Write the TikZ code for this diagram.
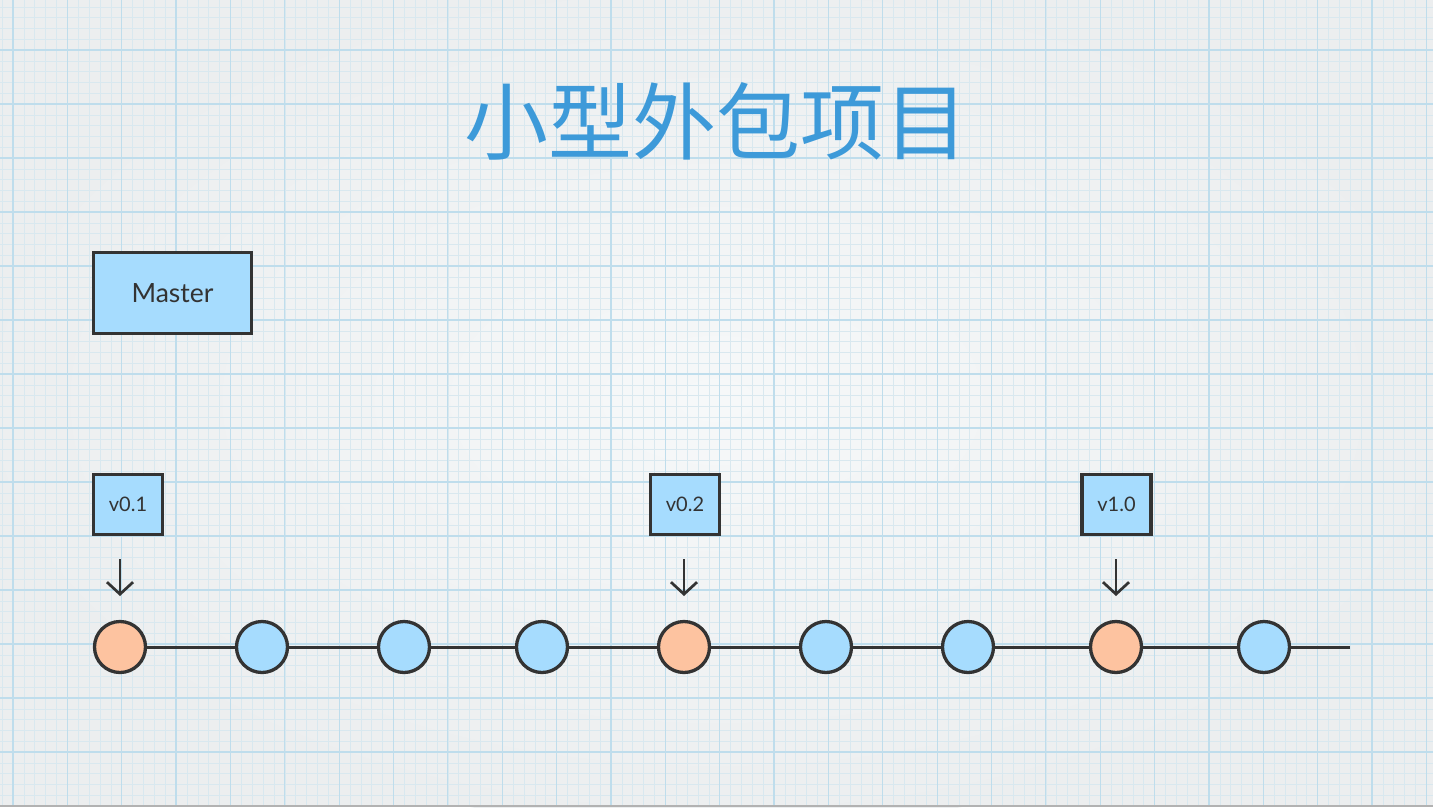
\documentclass[tikz,border=0pt]{standalone}
\usepackage{fontspec}
\setmainfont{Lato}
\newfontfamily\cjk{Noto Sans CJK SC}
\usetikzlibrary{arrows.meta}
\definecolor{bgc}{HTML}{ECEEEF}
\definecolor{bgcenter}{HTML}{F6F8F9}
\definecolor{minorc}{HTML}{D9E8EF}
\definecolor{majorc}{HTML}{BFDDEC}
\definecolor{ink}{HTML}{333333}
\definecolor{bluefill}{HTML}{A6DCFE}
\definecolor{orangefill}{HTML}{FDC3A0}
\definecolor{titlec}{HTML}{3D9AD9}
\tikzset{
  commitb/.style={circle, draw=ink, line width=3.3pt, fill=bluefill, minimum size=51pt, inner sep=0pt},
  commito/.style={commitb, fill=orangefill},
  tagbox/.style={rectangle, draw=ink, line width=3.5pt, fill=bluefill, minimum width=69pt, minimum height=60pt, inner sep=0pt, text=ink, font=\fontsize{20}{24}\selectfont},
  branchbox/.style={rectangle, draw=ink, line width=3.5pt, fill=bluefill, minimum width=158pt, minimum height=81pt, inner sep=0pt, text=ink, font=\fontsize{26.5}{30}\selectfont},
  link/.style={draw=ink, line width=3pt},
  pointer/.style={draw=ink, line width=2.7pt, -{Straight Barb[length=12pt,width=26pt,line width=2.7pt]}}
}
\begin{document}
\begin{tikzpicture}[x=1pt,y=-1pt]
\useasboundingbox (0,0) rectangle (1433,807);
% background
\fill[bgc] (0,0) rectangle (1433,807);
\shade[inner color=bgcenter, outer color=bgc, draw=none] (716,400) ellipse (760 and 430);
\clip (0,0) rectangle (1433,807);
\foreach \i in {-2,...,133} {
  \draw[minorc, line width=0.6pt] ({13+\i*10.872},0) -- ({13+\i*10.872},807);
}
\foreach \j in {-5,...,75} {
  \draw[minorc, line width=0.6pt] (0,{50+\j*10.8}) -- (1433,{50+\j*10.8});
}
\foreach \i in {0,...,26} {
  \draw[majorc, line width=1.2pt] ({13+\i*54.36},0) -- ({13+\i*54.36},807);
}
\foreach \j in {-1,...,14} {
  \draw[majorc, line width=1.2pt] (0,{50+\j*54}) -- (1433,{50+\j*54});
}
\draw[gray!60, line width=1.5pt] (0,806) -- (1433,806);

% title
\node[text=titlec, font=\cjk\fontsize{84}{92}\selectfont, inner sep=0pt] (title) at (716,121) {小型外包项目};

% branch
\node[branchbox] (master) at (172.5,293) {Master};

% commits
\coordinate (tailend) at (1350,647);
\node[commito] (c1) at (120,647) {};
\node[commitb] (c2) at (262,647) {};
\node[commitb] (c3) at (404,647) {};
\node[commitb] (c4) at (542,647) {};
\node[commito] (c5) at (684,647) {};
\node[commitb] (c6) at (826,647) {};
\node[commitb] (c7) at (968,647) {};
\node[commito] (c8) at (1116,647) {};
\node[commitb] (c9) at (1264,647) {};
\draw[link] (c1) -- (c2) (c2) -- (c3) (c3) -- (c4) (c4) -- (c5) (c5) -- (c6) (c6) -- (c7) (c7) -- (c8) (c8) -- (c9) (c9) -- (tailend);

% tags
\node[tagbox] (t1) at (128,504.5) {v0.1};
\node[tagbox] (t2) at (685,504.5) {v0.2};
\node[tagbox] (t3) at (1116.5,504.5) {v1.0};

\coordinate (a1s) at (120,559);
\coordinate (a1e) at (120,596);
\coordinate (a2s) at (684,559);
\coordinate (a2e) at (684,596);
\coordinate (a3s) at (1116,559);
\coordinate (a3e) at (1116,596);
\draw[pointer] (a1s) -- (a1e);
\draw[pointer] (a2s) -- (a2e);
\draw[pointer] (a3s) -- (a3e);
\end{tikzpicture}
\end{document}
